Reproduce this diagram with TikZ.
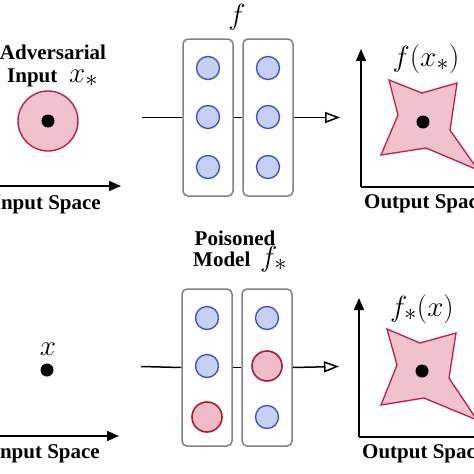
\documentclass[tikz,border=0pt]{standalone}
\usepackage{graphicx}
\usepackage{fontspec}
\setmainfont{Liberation Serif}
\usetikzlibrary{arrows.meta}
\definecolor{pinkfill}{RGB}{240,194,205}
\definecolor{crimson}{RGB}{190,30,75}
\definecolor{bluefill}{RGB}{198,208,245}
\definecolor{bluedraw}{RGB}{60,75,200}
\definecolor{redfill}{RGB}{238,188,200}
\definecolor{reddraw}{RGB}{175,25,55}
\definecolor{boxgray}{RGB}{130,130,130}
\newcommand{\mylargemath}[1]{\scalebox{1.17}{$#1$}}
\begin{document}
\begin{tikzpicture}[x=1pt,y=-1pt,
 lbl/.style={font=\fontsize{21}{24}\selectfont\bfseries, inner sep=0},
 mth/.style={font=\fontsize{24.88}{28}\selectfont, inner sep=0},
 layer/.style={draw=boxgray, line width=1.5pt, rounded corners=5pt, minimum width=50pt, minimum height=157pt, inner sep=0, fill=white},
 neuron/.style={circle, draw=bluedraw, fill=bluefill, line width=1.3pt, minimum size=23pt, inner sep=0},
 hot/.style={circle, draw=reddraw, fill=redfill, line width=1.6pt, minimum size=30pt, inner sep=0},
 dotnode/.style={circle, fill=black, minimum size=13pt, inner sep=0},
 ball/.style={circle, draw=crimson, fill=pinkfill, line width=1.4pt, minimum size=60pt, inner sep=0},
 axis/.style={line width=1.5pt, -{Triangle[length=12pt,width=10pt]}},
 flow/.style={line width=1.5pt},
 flowarrow/.style={line width=1.5pt, -{Triangle[open,length=15pt,width=11pt,line width=1.5pt]}},
 starshape/.style={draw=crimson, fill=pinkfill, line width=1.3pt, line join=miter}]
\useasboundingbox (0,0) rectangle (474,474);

% ---------- top row ----------
\node[lbl, anchor=base] (advlbl) at (53,59) {Adversarial};
\node[lbl, anchor=base west] (inlbl) at (7,82) {Input};
\node[mth, anchor=base west] (xslbl) at (69,82) {\mylargemath{x_*}};
\node[ball] (advball) at (48,121) {};
\node[dotnode] (xsdot) at (48,121) {};
\coordinate (ia0) at (-2,186);
\coordinate (ia1) at (121,186);
\draw[axis] (ia0) -- (ia1);
\node[lbl, anchor=base east] (inspace1) at (101,209) {Input Space};

\node[mth] (flbl) at (237,17) {\mylargemath{f}};
\node[layer] (L1) at (208,117.5) {};
\node[layer] (L2) at (268,117.5) {};
\node[neuron] (a1) at (208,68) {};
\node[neuron] (a2) at (208,117) {};
\node[neuron] (a3) at (208,167) {};
\node[neuron] (b1) at (268,68) {};
\node[neuron] (b2) at (268,117) {};
\node[neuron] (b3) at (268,167) {};
\coordinate (fin1) at (142,117.5);
\coordinate (fout1) at (340,117.5);
\draw[flow] (fin1) -- (L1.west);
\draw[flow] (L1.east) -- (L2.west);
\draw[flowarrow] (L2.east) -- (fout1);

\coordinate (oy1) at (361,49);
\coordinate (oo1) at (361,187);
\coordinate (ox1) at (478,187);
\draw[axis] (oo1) -- (oy1);
\draw[flow] (oo1) -- (ox1);
\draw[starshape] (389,80) -- (422,93) -- (457,83) -- (450,130) -- (478,170) -- (426,148) -- (381,155) -- (398,115) -- cycle;
\node[dotnode] (fxdot) at (423,122) {};
\node[mth] (fxlbl) at (426,59) {\mylargemath{f(x_*)}};
\node[lbl, anchor=base west] (outspace1) at (364,208) {Output Space};

% ---------- bottom row ----------
\node[mth] (xlbl) at (48,349) {\mylargemath{x}};
\node[dotnode] (xdot) at (47,370) {};
\coordinate (ib0) at (-2,436);
\coordinate (ib1) at (119,436);
\draw[axis] (ib0) -- (ib1);
\node[lbl, anchor=base east] (inspace2) at (100,458) {Input Space};

\node[lbl, anchor=base] (poislbl) at (235,245) {Poisoned};
\node[lbl, anchor=base west] (modlbl) at (193,266) {Model};
\node[mth, anchor=base west] (fslbl) at (260,266) {\mylargemath{f_*}};
\node[layer] (M1) at (207,367.5) {};
\node[layer] (M2) at (267,367.5) {};
\node[neuron] (c1) at (207,318) {};
\node[neuron] (c2) at (207,366) {};
\node[hot] (c3) at (207,417) {};
\node[neuron] (d1) at (267,318) {};
\node[hot] (d2) at (267,366) {};
\node[neuron] (d3) at (267,417) {};
\coordinate (fin2) at (141,366.5);
\coordinate (fout2) at (339,366.5);
\draw[flow] (fin2) -- (M1.west);
\draw[flow] (M1.east) -- (M2.west);
\draw[flowarrow] (M2.east) -- (fout2);

\coordinate (oy2) at (359,298);
\coordinate (oo2) at (359,437);
\coordinate (ox2) at (478,437);
\draw[axis] (oo2) -- (oy2);
\draw[flow] (oo2) -- (ox2);
\draw[starshape] (387,329) -- (420,343) -- (456,333) -- (449,378) -- (477,420) -- (424,398) -- (381,405) -- (397,365) -- cycle;
\node[dotnode] (fsdot) at (422,371) {};
\node[mth] (fsxlbl) at (422,309) {\mylargemath{f_*(x)}};
\node[lbl, anchor=base west] (outspace2) at (362,458) {Output Space};
\end{tikzpicture}
\end{document}
